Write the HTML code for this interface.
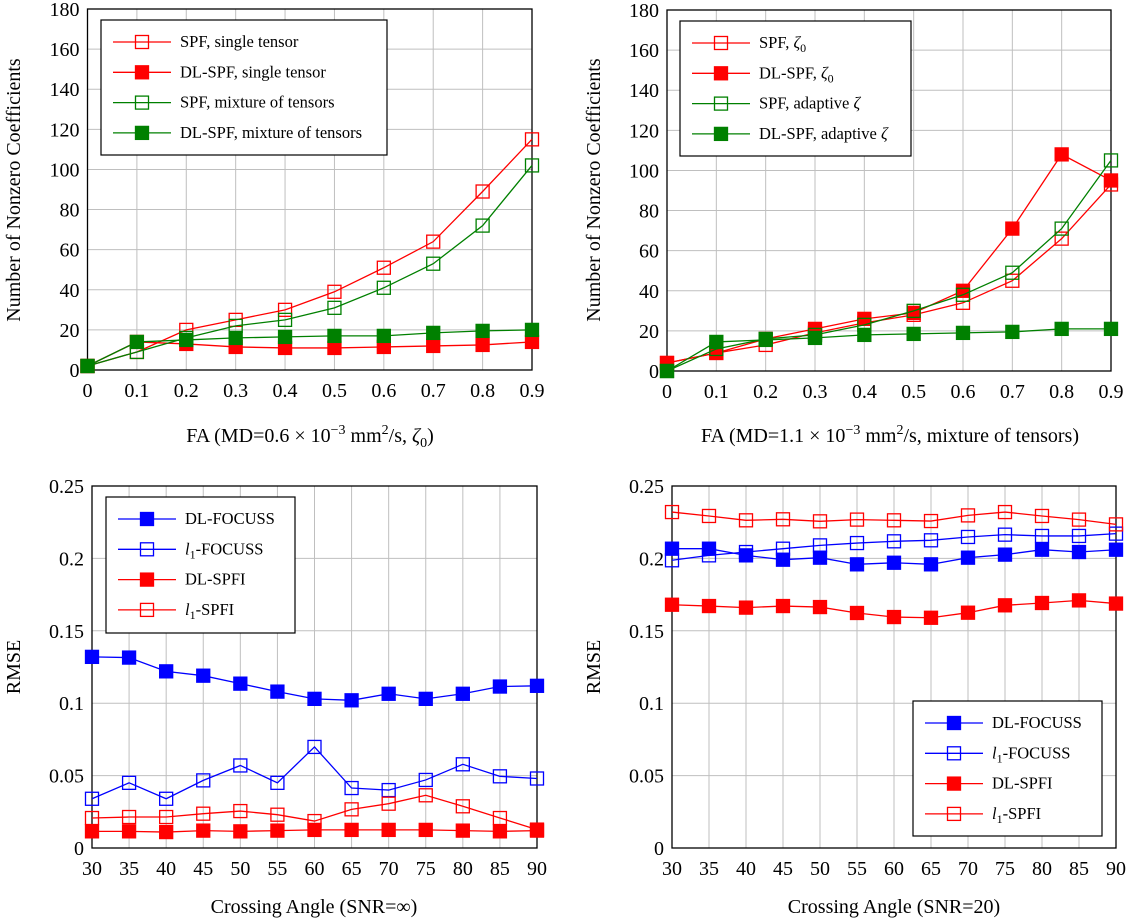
<!DOCTYPE html>
<html><head><meta charset="utf-8"><style>
body{margin:0;background:#fff;}
svg{display:block;font-family:"Liberation Serif",serif;}
</style></head><body>
<svg id="fig" width="1130" height="920" xmlns="http://www.w3.org/2000/svg">
<text transform="translate(20,190) rotate(-90)" text-anchor="middle" font-size="20">Number of Nonzero Coefficients</text>
<text x="310" y="442" text-anchor="middle" font-size="20">FA (MD=0.6 × 10<tspan dy="-8" font-size="14">−3</tspan><tspan dy="8"> mm</tspan><tspan dy="-8" font-size="14">2</tspan><tspan dy="8">/s, <tspan font-style="italic">ζ</tspan></tspan><tspan dy="5" font-size="14">0</tspan><tspan dy="-5">)</tspan></text>
<text transform="translate(600,190) rotate(-90)" text-anchor="middle" font-size="20">Number of Nonzero Coefficients</text>
<text x="890" y="442" text-anchor="middle" font-size="20">FA (MD=1.1 × 10<tspan dy="-8" font-size="14">−3</tspan><tspan dy="8"> mm</tspan><tspan dy="-8" font-size="14">2</tspan><tspan dy="8">/s, mixture of tensors)</tspan></text>
<text transform="translate(20,667) rotate(-90)" text-anchor="middle" font-size="20">RMSE</text>
<text x="314" y="913" text-anchor="middle" font-size="20">Crossing Angle (SNR=∞)</text>
<text transform="translate(600,667) rotate(-90)" text-anchor="middle" font-size="20">RMSE</text>
<text x="894" y="913" text-anchor="middle" font-size="20">Crossing Angle (SNR=20)</text>
</svg>
<script>
const faCats=[0,0.1,0.2,0.3,0.4,0.5,0.6,0.7,0.8,0.9];
const faTicks=["0","0.1","0.2","0.3","0.4","0.5","0.6","0.7","0.8","0.9"];
const countTicks=[0,20,40,60,80,100,120,140,160,180];
const tlSpfSingle=[2,9,20,25,30,39,51,64,89,115];
const tlDlSingle=[2,14,13,11.5,11,11,11.5,12,12.5,14];
const tlSpfMix=[2,9,16,22,25,31,41,53,72,102];
const tlDlMix=[2,14,15,16,16.5,17,17,18.5,19.5,20];
const trSpfZeta0=[4,9,13,19,24,28,34,45,66,93];
const trDlZeta0=[4,9,16,21,26,29,40,71,108,95];
const trSpfAdapt=[0,11,16,18,23,30,38,49,71,105];
const trDlAdapt=[0,14.5,15.5,16.5,18,18.5,19,19.5,21,21];
const angleCats=[30,35,40,45,50,55,60,65,70,75,80,85,90];
const rmseTicks=[0,0.05,0.1,0.15,0.2,0.25];
const rmseTickLabels=["0","0.05","0.1","0.15","0.2","0.25"];
const blDlFocuss=[0.132,0.1315,0.122,0.119,0.1135,0.108,0.103,0.102,0.1065,0.103,0.1065,0.1115,0.112];
const blL1Focuss=[0.034,0.045,0.034,0.0467,0.057,0.045,0.0698,0.0414,0.040,0.047,0.0578,0.0495,0.048];
const blDlSpfi=[0.0115,0.0115,0.011,0.012,0.0115,0.012,0.0125,0.0125,0.0125,0.0125,0.012,0.0115,0.012];
const blL1Spfi=[0.0207,0.0214,0.0214,0.0237,0.0255,0.023,0.0186,0.0267,0.0306,0.0364,0.0288,0.0207,0.0127];
const brDlFocuss=[0.2067,0.2067,0.2021,0.1991,0.2005,0.1959,0.197,0.1959,0.2005,0.2026,0.206,0.2044,0.206];
const brL1Focuss=[0.1987,0.2021,0.2044,0.2067,0.209,0.2106,0.2118,0.2125,0.2148,0.2164,0.2155,0.2155,0.2171];
const brDlSpfi=[0.168,0.1671,0.166,0.1671,0.1664,0.1623,0.1595,0.159,0.1625,0.1676,0.1692,0.171,0.1688];
const brL1Spfi=[0.232,0.2293,0.2263,0.227,0.2256,0.2268,0.2263,0.2258,0.2297,0.232,0.2293,0.2268,0.2235];

const NS="http://www.w3.org/2000/svg";
const svg=document.getElementById('fig');
function mk(tag,attrs,parent){const e=document.createElementNS(NS,tag);for(const k in attrs)e.setAttribute(k,attrs[k]);(parent||svg).appendChild(e);return e;}

function chart(id,box,xCats,xLabels,xMin,xMax,yTicks,yLabels,yMax,series,legend){
  const g=mk('g',{});
  
  
  const xs=v=>box.l+(v-xMin)/(xMax-xMin)*(box.r-box.l);
  const ys=v=>box.b-v/yMax*(box.b-box.t);
  xCats.forEach((c,i)=>{
    const x=xs(c);
    const gl=mk('line',{x1:x,x2:x,y1:box.t,y2:box.b,stroke:'#bfbfbf','stroke-width':1},g);
    
    
    const t=mk('text',{x:x,y:box.b+27,'text-anchor':'middle','font-size':20},g);
    
    
    t.textContent=xLabels[i];
  });
  yTicks.forEach((v,i)=>{
    const y=ys(v);
    const gl=mk('line',{x1:box.l,x2:box.r,y1:y,y2:y,stroke:'#bfbfbf','stroke-width':1},g);
    
    
    const t=mk('text',{x:box.l-8,y:y+7,'text-anchor':'end','font-size':20},g);
    
    
    t.textContent=yLabels[i];
  });
  const fr=mk('rect',{x:box.l,y:box.t,width:box.r-box.l,height:box.b-box.t,fill:'none',stroke:'#000','stroke-width':1.3},g);
  
  
  series.forEach(s=>{
    const sg=mk('g',{},g);
    
    
    const pts=xCats.map((c,i)=>xs(c)+','+ys(s.data[i])).join(' ');
    const pl=mk('polyline',{points:pts,fill:'none',stroke:s.color,'stroke-width':1.3},sg);
    
    
    xCats.forEach((c,i)=>{
      const m=mk('rect',{x:xs(c)-6.5,y:ys(s.data[i])-6.5,width:13,height:13,fill:s.filled?s.color:'none',stroke:s.color,'stroke-width':1.3},sg);
      
      
    });
  });
  const lg=mk('g',{},g);
  
  
  const lb=mk('rect',{x:legend.x,y:legend.y,width:legend.w,height:legend.h,fill:'#fff',stroke:'#000','stroke-width':1.2},lg);
  
  
  series.forEach((s,i)=>{
    const y=legend.y+22+i*30.3;
    const e=mk('g',{},lg);
    
    
    mk('line',{x1:legend.x+12,x2:legend.x+70,y1:y,y2:y,stroke:s.color,'stroke-width':1.3},e);
    mk('rect',{x:legend.x+34.5,y:y-6.5,width:13,height:13,fill:s.filled?s.color:'none',stroke:s.color,'stroke-width':1.3},e);
    const t=mk('text',{x:legend.x+79,y:y+5,'font-size':16.5},e);
    t.innerHTML=s.label;
  });
}
const R='#ff0000',G='#008000',B='#0000ff';
const z0='<tspan font-style="italic">ζ</tspan><tspan dy="4" font-size="12">0</tspan>';
const z='<tspan font-style="italic">ζ</tspan>';
const l1='<tspan font-style="italic">l</tspan><tspan dy="4" font-size="12">1</tspan><tspan dy="-4">';
chart('top-left',{l:87.5,r:532,t:9,b:370},faCats,faTicks,0,0.9,countTicks,countTicks.map(String),180,[
  {name:'spf-single',data:tlSpfSingle,color:R,filled:false,label:'SPF, single tensor'},
  {name:'dl-spf-single',data:tlDlSingle,color:R,filled:true,label:'DL-SPF, single tensor'},
  {name:'spf-mixture',data:tlSpfMix,color:G,filled:false,label:'SPF, mixture of tensors'},
  {name:'dl-spf-mixture',data:tlDlMix,color:G,filled:true,label:'DL-SPF, mixture of tensors'}],
  {x:101,y:20,w:286,h:135});
chart('top-right',{l:667,r:1111,t:10,b:371},faCats,faTicks,0,0.9,countTicks,countTicks.map(String),180,[
  {name:'spf-zeta0',data:trSpfZeta0,color:R,filled:false,label:'SPF, '+z0},
  {name:'dl-spf-zeta0',data:trDlZeta0,color:R,filled:true,label:'DL-SPF, '+z0},
  {name:'spf-adaptive',data:trSpfAdapt,color:G,filled:false,label:'SPF, adaptive '+z},
  {name:'dl-spf-adaptive',data:trDlAdapt,color:G,filled:true,label:'DL-SPF, adaptive '+z}],
  {x:680,y:21,w:231,h:135});
chart('bottom-left',{l:92,r:537,t:486,b:848},angleCats,angleCats.map(String),30,90,rmseTicks,rmseTickLabels,0.25,[
  {name:'dl-focuss',data:blDlFocuss,color:B,filled:true,label:'DL-FOCUSS'},
  {name:'l1-focuss',data:blL1Focuss,color:B,filled:false,label:l1+'-FOCUSS</tspan>'},
  {name:'dl-spfi',data:blDlSpfi,color:R,filled:true,label:'DL-SPFI'},
  {name:'l1-spfi',data:blL1Spfi,color:R,filled:false,label:l1+'-SPFI</tspan>'}],
  {x:106,y:497,w:189,h:136});
chart('bottom-right',{l:672,r:1116,t:486,b:848},angleCats,angleCats.map(String),30,90,rmseTicks,rmseTickLabels,0.25,[
  {name:'dl-focuss',data:brDlFocuss,color:B,filled:true,label:'DL-FOCUSS'},
  {name:'l1-focuss',data:brL1Focuss,color:B,filled:false,label:l1+'-FOCUSS</tspan>'},
  {name:'dl-spfi',data:brDlSpfi,color:R,filled:true,label:'DL-SPFI'},
  {name:'l1-spfi',data:brL1Spfi,color:R,filled:false,label:l1+'-SPFI</tspan>'}],
  {x:913,y:701,w:189,h:135});
</script>
</body></html>
